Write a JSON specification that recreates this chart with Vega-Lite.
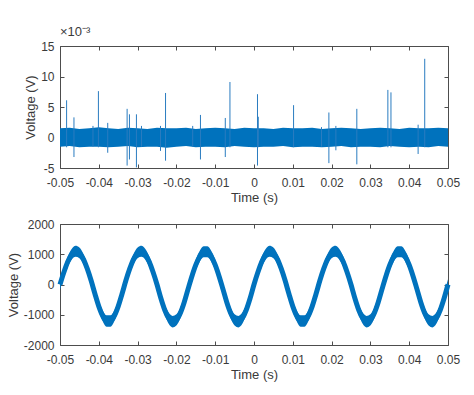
{
  "$schema": "https://vega.github.io/schema/vega-lite/v6.json",
  "padding": {"left": 6, "top": 25, "right": 5, "bottom": 5},
  "background": "white",
  "datasets": {
    "band": [
      {"t": -0.05, "hi": 1.5, "lo": -1.5},
      {"t": -0.0475, "hi": 1.6, "lo": -1.4},
      {"t": -0.045, "hi": 1.4, "lo": -1.6},
      {"t": -0.0425, "hi": 1.5, "lo": -1.5},
      {"t": -0.04, "hi": 1.7, "lo": -1.5},
      {"t": -0.0375, "hi": 1.5, "lo": -1.6},
      {"t": -0.035, "hi": 1.4, "lo": -1.5},
      {"t": -0.0325, "hi": 1.6, "lo": -1.4},
      {"t": -0.03, "hi": 1.5, "lo": -1.6},
      {"t": -0.0275, "hi": 1.4, "lo": -1.5},
      {"t": -0.025, "hi": 1.6, "lo": -1.5},
      {"t": -0.0225, "hi": 1.5, "lo": -1.7},
      {"t": -0.02, "hi": 1.5, "lo": -1.5},
      {"t": -0.0175, "hi": 1.6, "lo": -1.4},
      {"t": -0.015, "hi": 1.4, "lo": -1.6},
      {"t": -0.0125, "hi": 1.5, "lo": -1.5},
      {"t": -0.01, "hi": 1.6, "lo": -1.5},
      {"t": -0.0075, "hi": 1.5, "lo": -1.6},
      {"t": -0.005, "hi": 1.4, "lo": -1.4},
      {"t": -0.0025, "hi": 1.6, "lo": -1.5},
      {"t": 0, "hi": 1.5, "lo": -1.6},
      {"t": 0.0025, "hi": 1.5, "lo": -1.5},
      {"t": 0.005, "hi": 1.4, "lo": -1.5},
      {"t": 0.0075, "hi": 1.6, "lo": -1.4},
      {"t": 0.01, "hi": 1.5, "lo": -1.6},
      {"t": 0.0125, "hi": 1.5, "lo": -1.5},
      {"t": 0.015, "hi": 1.6, "lo": -1.5},
      {"t": 0.0175, "hi": 1.4, "lo": -1.6},
      {"t": 0.02, "hi": 1.5, "lo": -1.5},
      {"t": 0.0225, "hi": 1.6, "lo": -1.4},
      {"t": 0.025, "hi": 1.5, "lo": -1.6},
      {"t": 0.0275, "hi": 1.4, "lo": -1.5},
      {"t": 0.03, "hi": 1.5, "lo": -1.5},
      {"t": 0.0325, "hi": 1.6, "lo": -1.6},
      {"t": 0.035, "hi": 1.5, "lo": -1.4},
      {"t": 0.0375, "hi": 1.4, "lo": -1.5},
      {"t": 0.04, "hi": 1.6, "lo": -1.6},
      {"t": 0.0425, "hi": 1.5, "lo": -1.5},
      {"t": 0.045, "hi": 1.5, "lo": -1.6},
      {"t": 0.0475, "hi": 1.6, "lo": -1.4},
      {"t": 0.05, "hi": 1.5, "lo": -1.5}
    ],
    "spikes": [
      {"t": -0.0483, "top": 6.1, "bot": -1.6},
      {"t": -0.0464, "top": 3.3, "bot": -3.2},
      {"t": -0.0415, "top": 1.9, "bot": -1.5},
      {"t": -0.0401, "top": 7.6, "bot": -1.6},
      {"t": -0.0377, "top": 2.4, "bot": -2.5},
      {"t": -0.0327, "top": 4.7, "bot": -4.6},
      {"t": -0.0321, "top": 3.8, "bot": -3.6},
      {"t": -0.0303, "top": 3.8, "bot": -4.9},
      {"t": -0.029, "top": 1.9, "bot": -1.5},
      {"t": -0.0241, "top": 1.9, "bot": -2.2},
      {"t": -0.0228, "top": 7.3, "bot": -3.8},
      {"t": -0.0158, "top": 1.9, "bot": -1.5},
      {"t": -0.0138, "top": 3.7, "bot": -3.6},
      {"t": -0.0074, "top": 3.2, "bot": -3.2},
      {"t": -0.0062, "top": 9.1, "bot": -1.6},
      {"t": 0.0009, "top": 7.1, "bot": -4.6},
      {"t": 0.0011, "top": 3.4, "bot": -1.6},
      {"t": 0.0102, "top": 5.3, "bot": -1.6},
      {"t": 0.0174, "top": 1.7, "bot": -1.5},
      {"t": 0.0193, "top": 4.1, "bot": -4.2},
      {"t": 0.0211, "top": 1.9, "bot": -2.1},
      {"t": 0.0265, "top": 4.7, "bot": -4.4},
      {"t": 0.0345, "top": 7.8, "bot": -1.6},
      {"t": 0.0353, "top": 7.4, "bot": -1.6},
      {"t": 0.0423, "top": 2.1, "bot": -2.7},
      {"t": 0.044, "top": 12.9, "bot": -1.6}
    ],
    "wave": [
      {"t": -0.05, "v": 0, "e": 170},
      {"t": -0.049, "v": 405, "e": 170},
      {"t": -0.048, "v": 753, "e": 170},
      {"t": -0.047, "v": 995, "e": 175},
      {"t": -0.046, "v": 1098, "e": 180},
      {"t": -0.045, "v": 1046, "e": 175},
      {"t": -0.044, "v": 848, "e": 170},
      {"t": -0.043, "v": 530, "e": 170},
      {"t": -0.042, "v": 138, "e": 170},
      {"t": -0.041, "v": -306, "e": 170},
      {"t": -0.04, "v": -723, "e": 170},
      {"t": -0.039, "v": -1038, "e": 180},
      {"t": -0.038, "v": -1208, "e": 190},
      {"t": -0.037, "v": -1208, "e": 190},
      {"t": -0.036, "v": -1038, "e": 180},
      {"t": -0.035, "v": -723, "e": 170},
      {"t": -0.034, "v": -306, "e": 170},
      {"t": -0.033, "v": 138, "e": 170},
      {"t": -0.032, "v": 530, "e": 170},
      {"t": -0.031, "v": 848, "e": 170},
      {"t": -0.03, "v": 1046, "e": 175},
      {"t": -0.029, "v": 1098, "e": 180},
      {"t": -0.028, "v": 995, "e": 175},
      {"t": -0.027, "v": 753, "e": 170},
      {"t": -0.026, "v": 405, "e": 170},
      {"t": -0.025, "v": 0, "e": 170},
      {"t": -0.024, "v": -453, "e": 170},
      {"t": -0.023, "v": -842, "e": 170},
      {"t": -0.022, "v": -1113, "e": 185},
      {"t": -0.021, "v": -1228, "e": 190},
      {"t": -0.02, "v": -1170, "e": 185},
      {"t": -0.019, "v": -948, "e": 175},
      {"t": -0.018, "v": -593, "e": 170},
      {"t": -0.017, "v": -154, "e": 170},
      {"t": -0.016, "v": 274, "e": 170},
      {"t": -0.015, "v": 647, "e": 170},
      {"t": -0.014, "v": 929, "e": 175},
      {"t": -0.013, "v": 1081, "e": 180},
      {"t": -0.012, "v": 1081, "e": 180},
      {"t": -0.011, "v": 929, "e": 175},
      {"t": -0.01, "v": 647, "e": 170},
      {"t": -0.009, "v": 274, "e": 170},
      {"t": -0.008, "v": -154, "e": 170},
      {"t": -0.007, "v": -593, "e": 170},
      {"t": -0.006, "v": -948, "e": 175},
      {"t": -0.005, "v": -1170, "e": 185},
      {"t": -0.004, "v": -1228, "e": 190},
      {"t": -0.003, "v": -1113, "e": 185},
      {"t": -0.002, "v": -842, "e": 170},
      {"t": -0.001, "v": -453, "e": 170},
      {"t": 0, "v": 0, "e": 170},
      {"t": 0.001, "v": 405, "e": 170},
      {"t": 0.002, "v": 753, "e": 170},
      {"t": 0.003, "v": 995, "e": 175},
      {"t": 0.004, "v": 1098, "e": 180},
      {"t": 0.005, "v": 1046, "e": 175},
      {"t": 0.006, "v": 848, "e": 170},
      {"t": 0.007, "v": 530, "e": 170},
      {"t": 0.008, "v": 138, "e": 170},
      {"t": 0.009, "v": -306, "e": 170},
      {"t": 0.01, "v": -723, "e": 170},
      {"t": 0.011, "v": -1038, "e": 180},
      {"t": 0.012, "v": -1208, "e": 190},
      {"t": 0.013, "v": -1208, "e": 190},
      {"t": 0.014, "v": -1038, "e": 180},
      {"t": 0.015, "v": -723, "e": 170},
      {"t": 0.016, "v": -306, "e": 170},
      {"t": 0.017, "v": 138, "e": 170},
      {"t": 0.018, "v": 530, "e": 170},
      {"t": 0.019, "v": 848, "e": 170},
      {"t": 0.02, "v": 1046, "e": 175},
      {"t": 0.021, "v": 1098, "e": 180},
      {"t": 0.022, "v": 995, "e": 175},
      {"t": 0.023, "v": 753, "e": 170},
      {"t": 0.024, "v": 405, "e": 170},
      {"t": 0.025, "v": 0, "e": 170},
      {"t": 0.026, "v": -453, "e": 170},
      {"t": 0.027, "v": -842, "e": 170},
      {"t": 0.028, "v": -1113, "e": 185},
      {"t": 0.029, "v": -1228, "e": 190},
      {"t": 0.03, "v": -1170, "e": 185},
      {"t": 0.031, "v": -948, "e": 175},
      {"t": 0.032, "v": -593, "e": 170},
      {"t": 0.033, "v": -154, "e": 170},
      {"t": 0.034, "v": 274, "e": 170},
      {"t": 0.035, "v": 647, "e": 170},
      {"t": 0.036, "v": 929, "e": 175},
      {"t": 0.037, "v": 1081, "e": 180},
      {"t": 0.038, "v": 1081, "e": 180},
      {"t": 0.039, "v": 929, "e": 175},
      {"t": 0.04, "v": 647, "e": 170},
      {"t": 0.041, "v": 274, "e": 170},
      {"t": 0.042, "v": -154, "e": 170},
      {"t": 0.043, "v": -593, "e": 170},
      {"t": 0.044, "v": -948, "e": 175},
      {"t": 0.045, "v": -1170, "e": 185},
      {"t": 0.046, "v": -1228, "e": 190},
      {"t": 0.047, "v": -1113, "e": 185},
      {"t": 0.048, "v": -842, "e": 170},
      {"t": 0.049, "v": -453, "e": 170},
      {"t": 0.05, "v": 0, "e": 170}
    ]
  },
  "vconcat": [
    {
      "width": 388,
      "height": 122,
      "title": {"text": "×10⁻³", "anchor": "start", "frame": "group", "fontSize": 13, "fontWeight": "normal", "color": "#3a3a3a", "offset": 1, "font": "Liberation Sans"},
      "resolve": {"axis": {"x": "independent", "y": "independent"}},
      "layer": [
        {
          "data": {"name": "band"},
          "mark": {"type": "area", "color": "#0072BD", "opacity": 1},
          "encoding": {
            "x": {"field": "t", "type": "quantitative", "scale": {"domain": [-0.05, 0.05], "nice": false, "zero": false},
                  "axis": {"title": "Time (s)", "values": [-0.05, -0.04, -0.03, -0.02, -0.01, 0, 0.01, 0.02, 0.03, 0.04, 0.05],
                           "labelPadding": 13,
                           "labelExpr": "datum.value == 0 ? '0' : (datum.value < 0 ? '-' : '') + format(abs(datum.value), '.2f')"}},
            "y": {"field": "hi", "type": "quantitative", "scale": {"domain": [-5, 15], "nice": false, "zero": false},
                  "axis": {"title": "Voltage (V)", "values": [-5, 0, 5, 10, 15], "labelPadding": 10,
                           "labelExpr": "(datum.value < 0 ? '-' : '') + format(abs(datum.value), 'd')"}},
            "y2": {"field": "lo"}
          }
        },
        {
          "data": {"name": "spikes"},
          "mark": {"type": "rule", "color": "#2a7cc0", "strokeWidth": 1},
          "encoding": {
            "x": {"field": "t", "type": "quantitative", "axis": null},
            "y": {"field": "top", "type": "quantitative", "axis": null},
            "y2": {"field": "bot"}
          }
        },
        {
          "data": {"name": "band"},
          "mark": {"type": "area", "opacity": 0},
          "encoding": {
            "x": {"field": "t", "type": "quantitative",
                  "axis": {"orient": "top", "labels": false, "title": null, "values": [-0.05, -0.04, -0.03, -0.02, -0.01, 0, 0.01, 0.02, 0.03, 0.04, 0.05]}},
            "y": {"field": "hi", "type": "quantitative",
                  "axis": {"orient": "right", "labels": false, "title": null, "values": [-5, 0, 5, 10, 15]}},
            "y2": {"field": "lo"}
          }
        }
      ]
    },
    {
      "width": 388,
      "height": 121,
      "resolve": {"axis": {"x": "independent", "y": "independent"}},
      "layer": [
        {
          "data": {"name": "wave"},
          "mark": {"type": "errorband", "color": "#0072BD", "opacity": 1, "interpolate": "monotone", "borders": false},
          "encoding": {
            "x": {"field": "t", "type": "quantitative", "scale": {"domain": [-0.05, 0.05], "nice": false, "zero": false},
                  "axis": {"title": "Time (s)", "values": [-0.05, -0.04, -0.03, -0.02, -0.01, 0, 0.01, 0.02, 0.03, 0.04, 0.05],
                           "labelPadding": 13,
                           "labelExpr": "datum.value == 0 ? '0' : (datum.value < 0 ? '-' : '') + format(abs(datum.value), '.2f')"}},
            "y": {"field": "v", "type": "quantitative", "scale": {"domain": [-2000, 2000], "nice": false, "zero": false},
                  "axis": {"title": "Voltage (V)", "values": [-2000, -1000, 0, 1000, 2000], "labelPadding": 10,
                           "labelExpr": "(datum.value < 0 ? '-' : '') + format(abs(datum.value), 'd')"}},
            "yError": {"field": "e"}
          }
        },
        {
          "data": {"name": "wave"},
          "mark": {"type": "line", "color": "#0072BD", "strokeWidth": 5, "interpolate": "monotone"},
          "encoding": {
            "x": {"field": "t", "type": "quantitative", "axis": null},
            "y": {"field": "v", "type": "quantitative", "axis": null}
          }
        },
        {
          "data": {"name": "wave"},
          "mark": {"type": "line", "opacity": 0},
          "encoding": {
            "x": {"field": "t", "type": "quantitative",
                  "axis": {"orient": "top", "labels": false, "title": null, "values": [-0.05, -0.04, -0.03, -0.02, -0.01, 0, 0.01, 0.02, 0.03, 0.04, 0.05]}},
            "y": {"field": "v", "type": "quantitative",
                  "axis": {"orient": "right", "labels": false, "title": null, "values": [-2000, -1000, 0, 1000, 2000]}}
          }
        }
      ]
    }
  ],
  "spacing": 12,
  "config": {
    "font": "Liberation Sans",
    "view": {"stroke": "#4d4d4d", "strokeWidth": 1},
    "axis": {
      "grid": false,
      "domain": false,
      "tickColor": "#4d4d4d",
      "tickSize": -4,
      "labelFont": "Liberation Sans",
      "labelFontSize": 12,
      "labelColor": "#3a3a3a",
      "labelOverlap": false,
      "labelFlush": false,
      "labelBound": false,
      "titleFont": "Liberation Sans",
      "titleFontSize": 13,
      "titleFontWeight": "normal",
      "titleColor": "#3a3a3a",
      "titlePadding": 3
    }
  }
}
